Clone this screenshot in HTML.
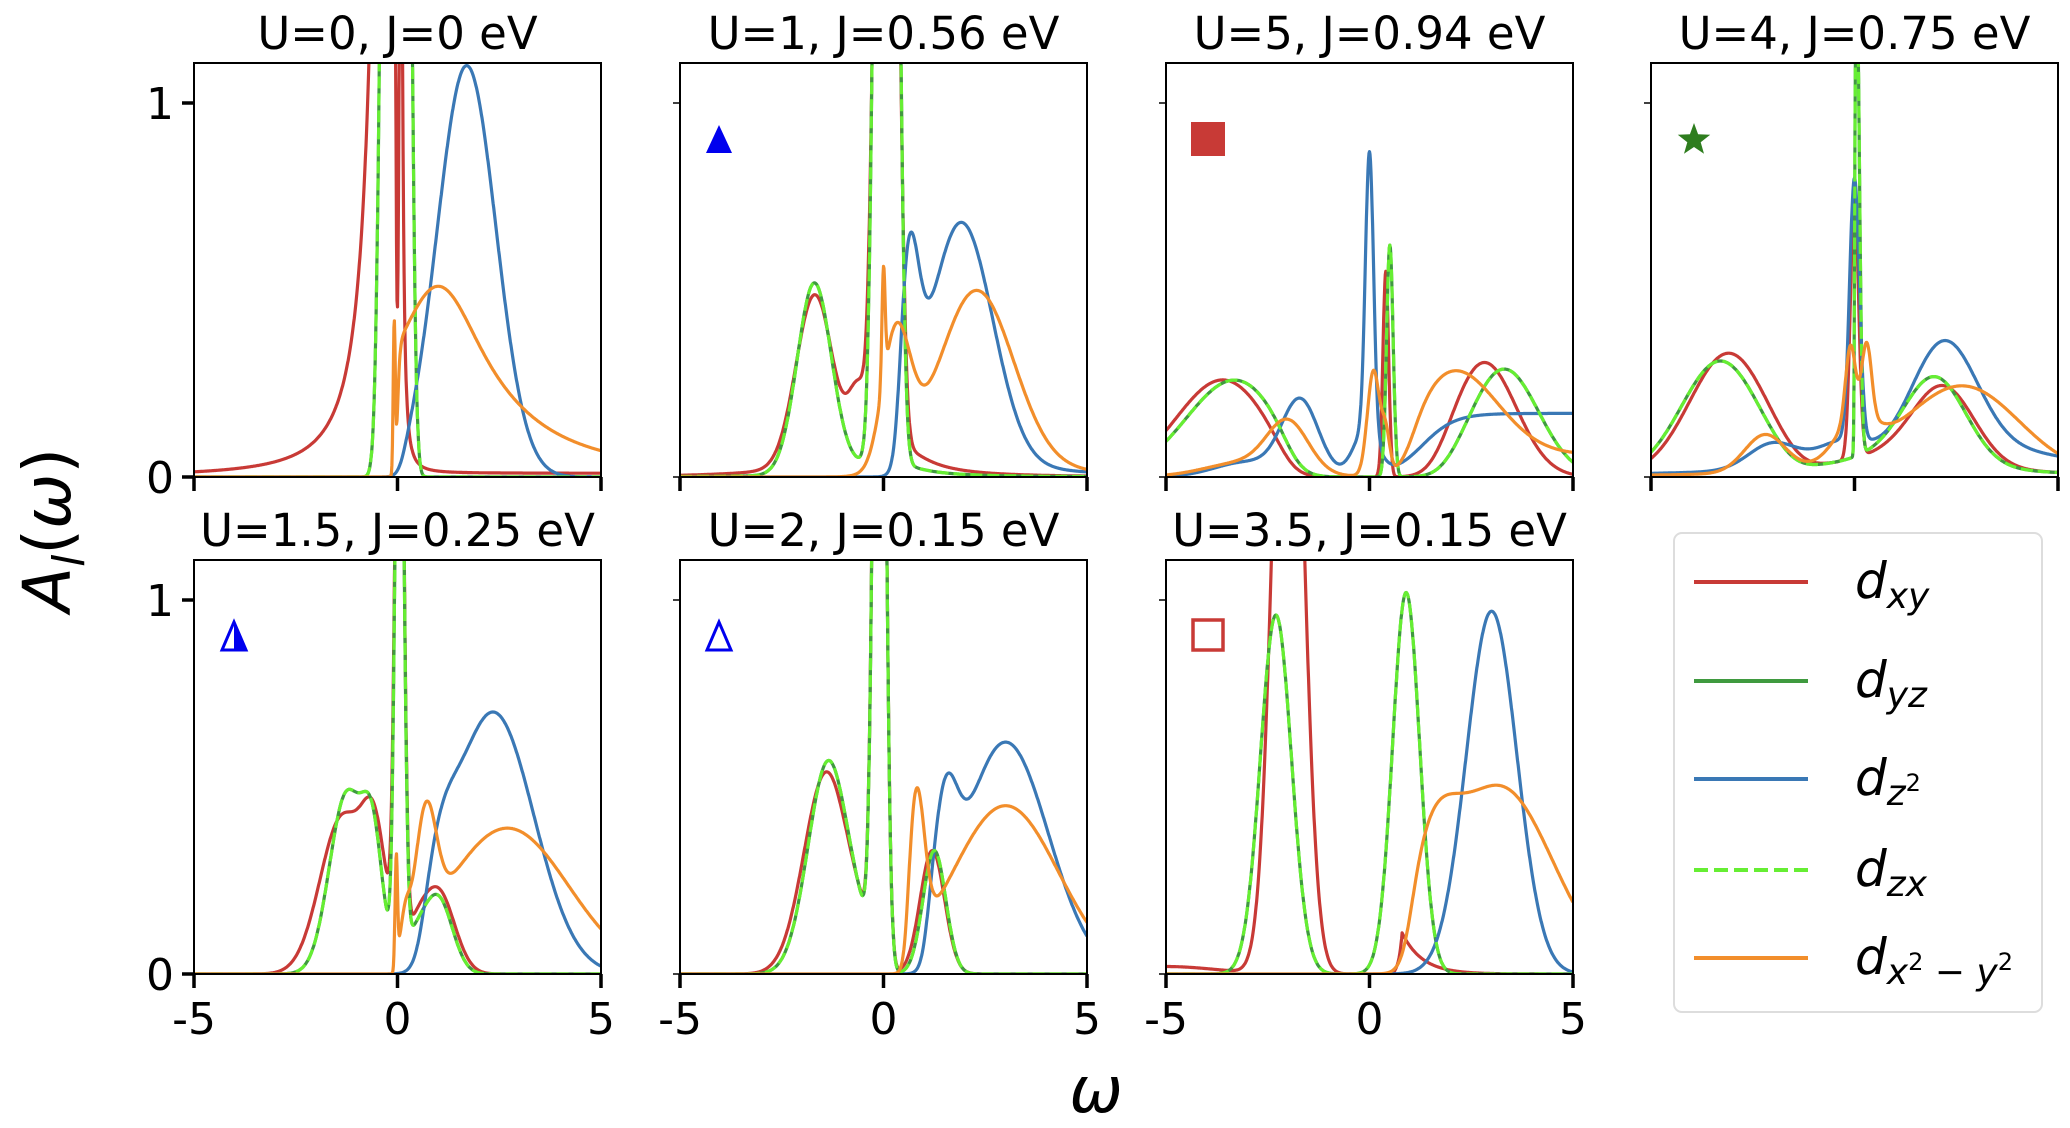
<!DOCTYPE html>
<html><head><meta charset="utf-8">
<style>
html,body{margin:0;padding:0;background:#fff;}
svg{display:block;font-family:"DejaVu Sans","Liberation Sans",sans-serif;}
</style></head>
<body>
<svg id="s" width="2070" height="1128" viewBox="0 0 2070 1128" xmlns="http://www.w3.org/2000/svg">
<rect width="2070" height="1128" fill="#fff"/>
<g id="plots"></g>
<text x="0" y="0" transform="translate(70,530) rotate(-90)" font-size="66" text-anchor="middle" font-style="italic">A<tspan font-size="44" dy="14">l</tspan><tspan dy="-14" font-style="normal">(</tspan>ω<tspan font-style="normal">)</tspan></text>
<text x="1096" y="1112" font-size="64" text-anchor="middle" font-style="italic">ω</text>
<rect x="1674" y="533" width="368" height="479" rx="8" fill="#fff" stroke="#ddd" stroke-width="2"/>
<g stroke-width="4" fill="none">
<line x1="1694" y1="582" x2="1808" y2="582" stroke="#c83a36"/>
<line x1="1694" y1="681" x2="1808" y2="681" stroke="#3f9a3f"/>
<line x1="1694" y1="779" x2="1808" y2="779" stroke="#3a78b5"/>
<line x1="1694" y1="870" x2="1808" y2="870" stroke="#66ee33" stroke-dasharray="14,6"/>
<line x1="1694" y1="958" x2="1808" y2="958" stroke="#f28e2b"/>
</g>
<g font-size="50" font-style="italic">
<text x="1855" y="598">d<tspan font-size="36" dy="10">xy</tspan></text>
<text x="1855" y="697">d<tspan font-size="36" dy="10">yz</tspan></text>
<text x="1855" y="795">d<tspan font-size="36" dy="10">z</tspan><tspan font-size="24" dy="-14" font-style="normal">2</tspan></text>
<text x="1855" y="886">d<tspan font-size="36" dy="10">zx</tspan></text>
<text x="1855" y="974">d<tspan font-size="36" dy="10">x</tspan><tspan font-size="24" dy="-14" font-style="normal">2</tspan><tspan font-size="36" dy="14"> − y</tspan><tspan font-size="24" dy="-14" font-style="normal">2</tspan></text>
</g>
</svg>
<script>
const G=(a,m,s)=>x=>a*Math.exp(-(x-m)*(x-m)/(2*s*s));
const L=(a,m,w)=>x=>a*w*w/((x-m)*(x-m)+w*w);
const S=(m,k)=>x=>1/(1+Math.exp(-(x-m)/k));
const sum=(...f)=>x=>f.reduce((t,g)=>t+g(x),0);
const mul=(f,g)=>x=>f(x)*g(x);
const D=(m,k)=>x=>1-1/(1+Math.exp(-(x-m)/k));

const panels=[
 {x:194,y:63,title:"U=0, J=0 eV",ylab:true,
  red:sum(mul(L(4,-0.25,0.28),D(-0.05,0.02)),mul(L(2,0.08,0.05),S(0,0.02)),x=>0.01*S(0,0.1)(x)),
  green:sum(G(3,-0.25,0.14),G(3,0.2,0.12)),
  blue:mul(G(1.1,1.7,0.72),S(0.1,0.1)),
  orange:sum(mul(sum(L(0.46,1.0,1.7),G(0.05,1,0.6)),S(0,0.03)),G(0.4,-0.08,0.025))},
 {x:680,y:63,title:"U=1, J=0.56 eV",
  red:sum(G(0.45,-1.7,0.45),G(0.18,-0.6,0.25),x=>0.03*Math.exp(-Math.abs(x+1.5)/1.5),G(2,-0.1,0.15),G(2,0.25,0.15),L(0.08,0.3,0.8)),
  green:sum(G(0.51,-1.7,0.42),G(2.5,-0.1,0.14),G(2.5,0.25,0.14),L(0.05,0,0.8)),
  blue:mul(sum(G(0.47,0.6,0.25),G(0.6,1.95,0.75),L(0.1,1.2,1.5)),S(0.35,0.1)),
  orange:sum(mul(sum(G(0.35,0.3,0.35),G(0.45,2.3,0.9),L(0.05,2,2)),S(-0.5,0.2)),G(0.3,0,0.04))},
 {x:1166,y:63,title:"U=5, J=0.94 eV",
  red:sum(mul(G(0.26,-3.6,1.15),D(-2.0,0.25)),G(0.55,0.4,0.07),mul(G(0.31,2.8,0.8),S(1.5,0.3))),
  green:sum(mul(G(0.26,-3.3,1.2),D(-1.9,0.25)),G(0.62,0.5,0.08),mul(G(0.29,3.3,0.85),S(1.7,0.3))),
  blue:sum(G(0.2,-1.7,0.45),G(0.04,-3,0.8),G(0.75,0,0.1),G(0.12,-0.1,0.3),mul(x=>0.17,S(1.3,0.4))),
  orange:sum(G(0.13,-2.0,0.5),G(0.04,-3,1),G(0.28,0.1,0.15),G(0.1,0.4,0.1),mul(G(0.24,2.0,1.1),S(1.0,0.2)),x=>0.06*S(1.5,0.5)(x))},
 {x:1651,y:63,title:"U=4, J=0.75 eV",
  red:sum(mul(G(0.32,-3.1,0.95),D(-1.2,0.3)),G(0.7,0,0.1),G(0.2,2.2,0.75),L(0.06,1,2)),
  green:sum(mul(G(0.3,-3.3,0.95),D(-1.4,0.3)),mul(G(1.3,0.05,0.07),S(0,0.01)),G(0.22,2.0,0.75),L(0.06,1,2)),
  blue:sum(G(0.07,-2.0,0.6),G(0.7,0,0.12),G(0.06,-0.3,0.6),G(0.29,2.2,0.8),L(0.08,3,3)),
  orange:sum(G(0.1,-2.2,0.5),G(0.2,-0.1,0.12),G(0.2,0.3,0.12),G(0.1,0,0.5),G(0.2,2.8,1.3),L(0.06,1.5,2))},
 {x:194,y:560,title:"U=1.5, J=0.25 eV",ylab:true,xlab:true,
  red:sum(G(0.42,-1.35,0.55),G(0.3,-0.55,0.3),G(2,0.05,0.1),G(0.22,1.0,0.4),G(0.08,0.4,0.3)),
  green:sum(G(0.48,-1.25,0.42),G(0.3,-0.6,0.25),G(2,0.05,0.1),G(0.2,1.0,0.35),G(0.08,0.4,0.3)),
  blue:mul(sum(G(0.7,2.35,1.0),G(0.15,1.0,0.4)),S(0.55,0.15)),
  orange:sum(mul(sum(G(0.3,0.7,0.25),G(0.39,2.7,1.5),G(0.06,0.2,0.1)),S(0,0.03)),G(0.3,-0.03,0.03))},
 {x:680,y:560,title:"U=2, J=0.15 eV",xlab:true,
  red:sum(G(0.54,-1.4,0.55),G(3,-0.1,0.13),G(0.33,1.2,0.3),G(0.05,-0.5,0.3)),
  green:sum(G(0.57,-1.35,0.5),G(3,-0.1,0.13),G(0.33,1.25,0.28),G(0.05,-0.5,0.3)),
  blue:mul(sum(G(0.3,1.5,0.3),G(0.62,3.0,1.05)),S(1.0,0.1)),
  orange:mul(sum(G(0.4,0.8,0.2),G(0.45,3.0,1.3)),S(0.55,0.07))},
 {x:1166,y:560,title:"U=3.5, J=0.15 eV",xlab:true,
  red:sum(G(2.2,-2.0,0.35),x=>0.02*Math.exp(-(x+5)*(x+5)/3),mul(x=>0.11*Math.exp(-Math.max(0,x-0.8)/0.5)*Math.exp(-Math.max(0,0.8-x)/0.08),S(0.6,0.02))),
  green:sum(G(0.96,-2.3,0.38),G(1.02,0.9,0.33)),
  blue:G(0.97,3.0,0.62),
  orange:mul(sum(G(0.22,1.5,0.6),G(0.5,3.2,1.3)),S(0.95,0.15))}
];
const W=407,H=414,Y0=414,PU=374;
let out="";
function path(f,p){
  let d="";
  for(let i=0;i<=800;i++){const x=-5+10*i/800;let y=f(x);if(y<0)y=0;const px=p.x+W*i/800,py=p.y+Y0-y*PU;d+=(i?"L":"M")+px.toFixed(1)+","+Math.max(py,p.y-20).toFixed(1);}
  return d;
}
panels.forEach((p,k)=>{
  const cid="c"+k;
  out+=`<clipPath id="${cid}"><rect x="${p.x}" y="${p.y}" width="${W}" height="${H}"/></clipPath>`;
  out+=`<g clip-path="url(#${cid})" fill="none" stroke-width="3.2" stroke-linejoin="round">`;
  out+=`<path d="${path(p.red,p)}" stroke="#c83a36"/>`;
  out+=`<path d="${path(p.green,p)}" stroke="#3f9a3f"/>`;
  out+=`<path d="${path(p.blue,p)}" stroke="#3a78b5"/>`;
  out+=`<path d="${path(p.green,p)}" stroke="#66ee33" stroke-dasharray="12,5"/>`;
  out+=`<path d="${path(p.orange,p)}" stroke="#f28e2b"/>`;
  out+=`</g>`;
  out+=`<rect x="${p.x}" y="${p.y}" width="${W}" height="${H}" fill="none" stroke="#000" stroke-width="2"/>`;
  [0,0.5,1].forEach(f=>{const tx=p.x+W*f;out+=`<line x1="${tx}" y1="${p.y+H}" x2="${tx}" y2="${p.y+H+14}" stroke="#000" stroke-width="3.5"/>`;});
  [0,1].forEach(v=>{const ty=p.y+Y0-v*PU;out+=`<line x1="${p.x}" y1="${ty}" x2="${p.x-(p.ylab?12:7)}" y2="${ty}" stroke="#000" stroke-width="${p.ylab?3.5:1.5}"/>`;});
  if(p.ylab){out+=`<text x="${p.x-20}" y="${p.y+Y0-PU+16}" font-size="44" text-anchor="end">1</text><text x="${p.x-20}" y="${p.y+Y0+16}" font-size="44" text-anchor="end">0</text>`;}
  if(p.xlab){["-5","0","5"].forEach((t,i)=>{out+=`<text x="${p.x+W*i/2}" y="${p.y+H+60}" font-size="44" text-anchor="middle">${t}</text>`;});}
  out+=`<text x="${p.x+W/2}" y="${p.y-14}" font-size="45" text-anchor="middle">${p.title}</text>`;
});
out+=`<polygon points="719,125 706,153 732,153" fill="#0000ee"/>`;
out+=`<rect x="1191" y="122" width="34" height="34" fill="#c83a36"/>`;
(function(){let cx=1694,cy=140,r1=17,r2=7,pts=[];for(let i=0;i<10;i++){const a=-Math.PI/2+i*Math.PI/5,r=i%2?r2:r1;pts.push((cx+r*Math.cos(a)).toFixed(1)+","+(cy+r*Math.sin(a)).toFixed(1));}out+=`<polygon points="${pts.join(" ")}" fill="#2e7d1e"/>`;})();
out+=`<polygon points="234,622 222,650 246,650" fill="none" stroke="#0000ee" stroke-width="3"/><polygon points="234,622 234,650 246,650" fill="#0000ee"/>`;
out+=`<polygon points="719,622 707,650 731,650" fill="none" stroke="#0000ee" stroke-width="3"/>`;
out+=`<rect x="1193" y="620" width="30" height="30" fill="none" stroke="#c83a36" stroke-width="3.5"/>`;
document.getElementById("plots").innerHTML=out;
</script>
</body></html>
